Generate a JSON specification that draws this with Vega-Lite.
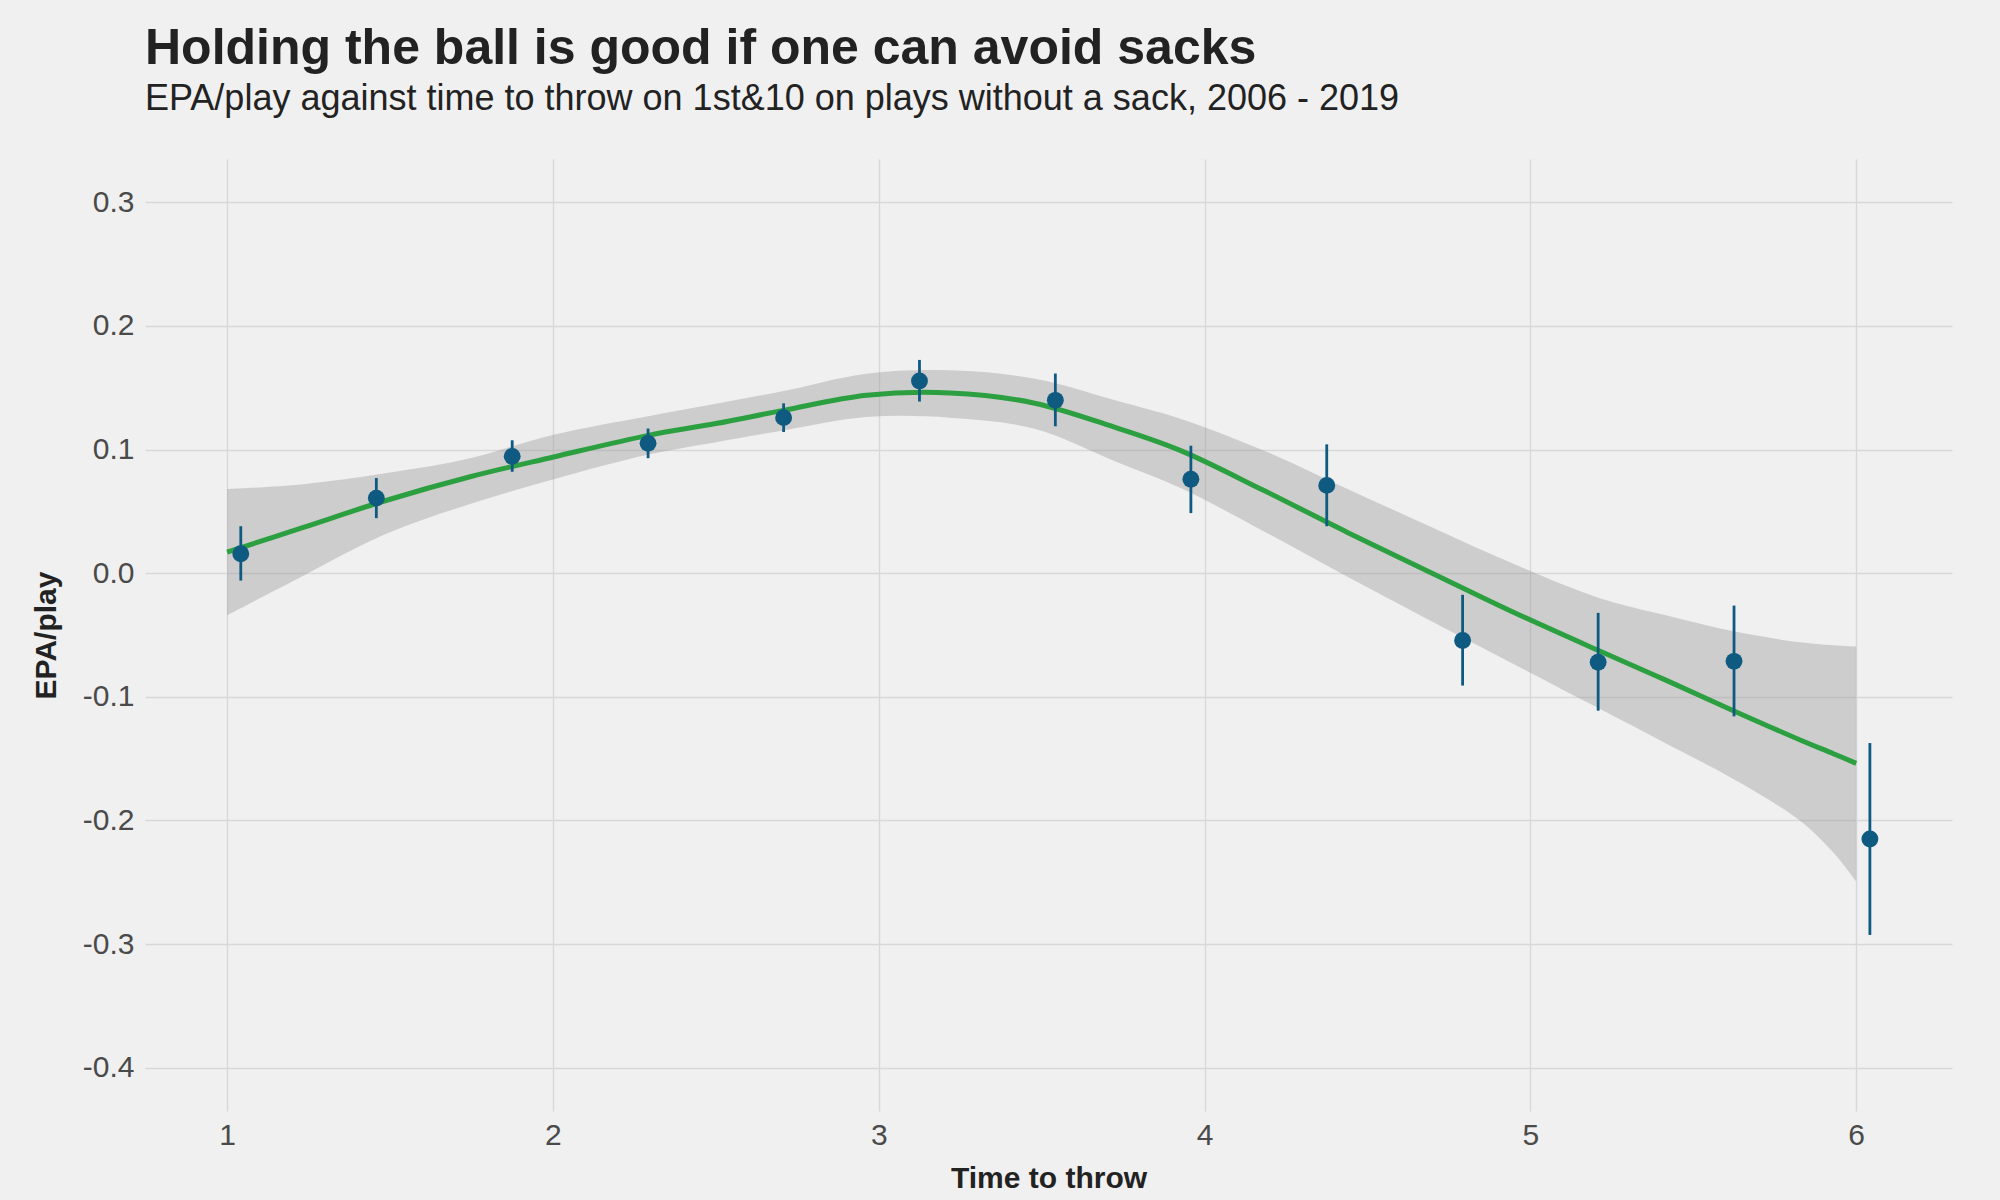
{
  "$schema": "https://vega.github.io/schema/vega-lite/v6.json",
  "width": 1807,
  "height": 952,
  "autosize": {"type": "none"},
  "padding": {"left": 145, "top": 159, "right": 48, "bottom": 89},
  "background": "#f0f0f0",
  "title": {
    "text": "Holding the ball is good if one can avoid sacks",
    "subtitle": "EPA/play against time to throw on 1st&10 on plays without a sack, 2006 - 2019",
    "anchor": "start",
    "frame": "group",
    "font": "Liberation Sans",
    "fontSize": 50,
    "fontWeight": "bold",
    "color": "#222222",
    "subtitleFont": "Liberation Sans",
    "subtitleFontSize": 36,
    "subtitleColor": "#222222",
    "subtitlePadding": 8,
    "offset": 42
  },
  "datasets": {
    "smooth": [
      {"t": 1.0, "fit": 0.017, "lo": -0.034, "hi": 0.068},
      {"t": 1.234, "fit": 0.037, "lo": -0.002, "hi": 0.072},
      {"t": 1.49, "fit": 0.059, "lo": 0.032, "hi": 0.081},
      {"t": 1.746, "fit": 0.078, "lo": 0.056, "hi": 0.093},
      {"t": 2.002, "fit": 0.094, "lo": 0.076, "hi": 0.112},
      {"t": 2.293, "fit": 0.1115, "lo": 0.096, "hi": 0.127},
      {"t": 2.5, "fit": 0.121, "lo": 0.106, "hi": 0.137},
      {"t": 2.708, "fit": 0.1317, "lo": 0.1155, "hi": 0.1474},
      {"t": 2.963, "fit": 0.1439, "lo": 0.1263, "hi": 0.1614},
      {"t": 3.219, "fit": 0.1458, "lo": 0.1258, "hi": 0.1641},
      {"t": 3.475, "fit": 0.1377, "lo": 0.1170, "hi": 0.1574},
      {"t": 3.73, "fit": 0.1175, "lo": 0.0900, "hi": 0.1395},
      {"t": 3.925, "fit": 0.0993, "lo": 0.0691, "hi": 0.125},
      {"t": 4.181, "fit": 0.067, "lo": 0.034, "hi": 0.0993},
      {"t": 4.437, "fit": 0.0332, "lo": -0.0027, "hi": 0.0683},
      {"t": 4.692, "fit": 0.0008, "lo": -0.0383, "hi": 0.0378},
      {"t": 4.948, "fit": -0.0316, "lo": -0.0734, "hi": 0.0076},
      {"t": 5.204, "fit": -0.062, "lo": -0.1085, "hi": -0.0194},
      {"t": 5.419, "fit": -0.0869, "lo": -0.1381, "hi": -0.0343},
      {"t": 5.623, "fit": -0.1112, "lo": -0.1665, "hi": -0.047},
      {"t": 5.828, "fit": -0.1349, "lo": -0.2002, "hi": -0.0559},
      {"t": 5.93, "fit": -0.146, "lo": -0.226, "hi": -0.0583},
      {"t": 6.0, "fit": -0.1538, "lo": -0.2494, "hi": -0.0594}
    ],
    "bins": [
      {"t": 1.042, "epa": 0.0157, "lo": -0.006, "hi": 0.038},
      {"t": 1.458, "epa": 0.0607, "lo": 0.0445, "hi": 0.077},
      {"t": 1.875, "epa": 0.0945, "lo": 0.082, "hi": 0.1075},
      {"t": 2.292, "epa": 0.105, "lo": 0.093, "hi": 0.117},
      {"t": 2.708, "epa": 0.1258, "lo": 0.1142, "hi": 0.1374},
      {"t": 3.125, "epa": 0.1555, "lo": 0.1388, "hi": 0.1725},
      {"t": 3.542, "epa": 0.1398, "lo": 0.1188, "hi": 0.1615},
      {"t": 3.958, "epa": 0.076, "lo": 0.0486, "hi": 0.1031},
      {"t": 4.375, "epa": 0.071, "lo": 0.038, "hi": 0.1042},
      {"t": 4.792, "epa": -0.0545, "lo": -0.0909, "hi": -0.0175},
      {"t": 5.208, "epa": -0.072, "lo": -0.1112, "hi": -0.0321},
      {"t": 5.625, "epa": -0.0713, "lo": -0.1158, "hi": -0.0262},
      {"t": 6.042, "epa": -0.215, "lo": -0.2926, "hi": -0.1374}
    ]
  },
  "encoding": {
    "x": {
      "field": "t",
      "type": "quantitative",
      "scale": {"domain": [0.748, 6.294], "nice": false, "zero": false},
      "axis": {"title": "Time to throw", "values": [1, 2, 3, 4, 5, 6], "format": "d"}
    }
  },
  "layer": [
    {
      "data": {"name": "smooth"},
      "mark": {"type": "area", "color": "#999999", "opacity": 0.4, "interpolate": "catmull-rom"},
      "encoding": {
        "y": {
          "field": "lo",
          "type": "quantitative",
          "scale": {"domain": [-0.435, 0.335], "nice": false, "zero": false},
          "axis": {
            "title": "EPA/play",
            "values": [-0.4, -0.3, -0.2, -0.1, 0, 0.1, 0.2, 0.3],
            "labelExpr": "datum.value < 0 ? '-' + format(-datum.value, '.1f') : format(datum.value, '.1f')"
          }
        },
        "y2": {"field": "hi"}
      }
    },
    {
      "data": {"name": "smooth"},
      "mark": {"type": "line", "color": "#2ca040", "strokeWidth": 5, "interpolate": "catmull-rom"},
      "encoding": {"y": {"field": "fit", "type": "quantitative"}}
    },
    {
      "data": {"name": "bins"},
      "mark": {"type": "rule", "color": "#0e5a80", "strokeWidth": 2.8},
      "encoding": {"y": {"field": "lo", "type": "quantitative"}, "y2": {"field": "hi"}}
    },
    {
      "data": {"name": "bins"},
      "mark": {"type": "point", "shape": "circle", "filled": true, "color": "#0e5a80", "opacity": 1, "size": 285},
      "encoding": {"y": {"field": "epa", "type": "quantitative"}}
    }
  ],
  "config": {
    "view": {"stroke": null},
    "axis": {
      "domain": false,
      "ticks": false,
      "grid": true,
      "gridColor": "#d8d8d8",
      "gridWidth": 1.4,
      "labelFont": "Liberation Sans",
      "labelFontSize": 30,
      "labelColor": "#4a4a4a",
      "titleFont": "Liberation Sans",
      "titleFontSize": 30,
      "titleFontWeight": "bold",
      "titleColor": "#222222"
    },
    "axisX": {"labelPadding": 9, "titlePadding": 13},
    "axisY": {"labelPadding": 11, "titlePadding": 21}
  }
}
